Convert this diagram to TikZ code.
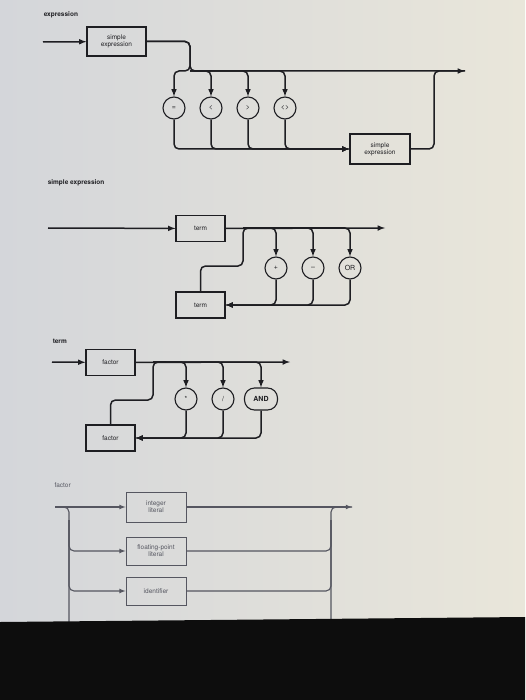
\documentclass[tikz,border=0pt]{standalone}
\usepackage{fontspec}
\setmainfont{TeX Gyre Heros}
\definecolor{pageleft}{RGB}{212,214,218}
\definecolor{pageright}{RGB}{233,230,218}
\definecolor{ink}{RGB}{30,30,34}
\definecolor{faded}{RGB}{85,86,96}
\begin{document}
\begin{tikzpicture}[>=latex, x=1pt, y=-1pt, line width=1.5pt, color=ink,
  box/.style={shape=rectangle,draw,line width=1.1pt,minimum width=49pt,minimum height=26pt,
    inner sep=1pt,align=center,font=\fontsize{6.5}{7}\selectfont},
  op/.style={shape=circle,draw,line width=1.1pt,minimum size=22pt,inner sep=0pt,
    font=\fontsize{7}{8}\selectfont},
  title/.style={anchor=west,inner sep=0pt,font=\bfseries\fontsize{6.5}{7}\selectfont},
  rc/.style={rounded corners=5pt}]

  \useasboundingbox (0,0) rectangle (525,700);
  \shade [left color=pageleft, right color=pageright] (0,0) rectangle (525,700);

  % expression
  \node [title] (t1) at (43,15) {expression};
  \coordinate (in1) at (43,42);
  \coordinate (s1) at (190,71);
  \coordinate (j1) at (434,71);
  \coordinate (out1) at (465,71);
  \node (se1) at (116.5,41.5) [box, minimum width=59pt, minimum height=29pt] {simple\\expression};
  \node (eq) at (174,108) [op] {=};
  \node (lt) at (211,108) [op] {<};
  \node (gt) at (248,108) [op] {>};
  \node (ne) at (285,108) [op] {<>};
  \node (se2) at (380,149) [box, minimum width=60pt, minimum height=30pt] {simple\\expression};

  \draw [->] (in1) -- (se1);
  \draw [rc,->] (se1) -| (s1) -- (out1);
  \draw [rc,->] (se1) -| (s1) -| (eq);
  \foreach \n in {lt,gt,ne} \draw [rc,->] (s1) -| (\n);
  \foreach \n in {eq,lt,gt,ne} \draw [rc,->] (\n) |- (se2);
  \draw [rc] (se2) -| (j1) -- (out1);

  % simple expression
  \node [title] (t2) at (47,183) {simple expression};
  \coordinate (in2) at (48,228);
  \coordinate (j2) at (243,228);
  \coordinate (out2) at (385,228);
  \node (tm1) at (200.5,228.5) [box] {term};
  \node (plus) at (276,268) [op] {+};
  \node (minus) at (313,268) [op] {--};
  \node (or) at (350,268) [op] {OR};
  \node (tm2) at (200.5,305) [box] {term};

  \draw [->] (in2) -- (tm1);
  \draw [->] (tm1) -- (out2);
  \foreach \n in {plus,minus,or} \draw [rc,->] (j2) -| (\n);
  \foreach \n in {plus,minus,or} \draw [rc,->] (\n) |- (tm2);
  \draw [rc] (tm2) |- (243,266) |- (256,228);

  % term
  \node [title] (t3) at (52,341) {term};
  \coordinate (in3) at (52,362);
  \coordinate (j3) at (153,362);
  \coordinate (out3) at (290,362);
  \node (fc1) at (110.5,362.5) [box] {factor};
  \node (mul) at (186,399) [op] {*};
  \node (div) at (223,399) [op] {/};
  \node (and) at (261,399) [op, shape=rectangle, rounded corners=10pt, minimum width=33pt] {\bfseries AND};
  \node (fc2) at (110.5,438) [box] {factor};

  \draw [->] (in3) -- (fc1);
  \draw [->] (fc1) -- (out3);
  \foreach \n in {mul,div,and} \draw [rc,->] (j3) -| (\n);
  \foreach \n in {mul,div,and} \draw [rc,->] (\n) |- (fc2);
  \draw [rc] (fc2) |- (153,400) |- (166,362);

  % factor
  \begin{scope}[color=faded, line width=1.1pt]
  \node [title, font=\fontsize{6.5}{7}\selectfont] (t4) at (54,485) {factor};
  \coordinate (in4) at (55,507);
  \coordinate (out4) at (352,507);
  \node (il) at (156,507) [box, line width=0.9pt, minimum width=60pt, minimum height=30pt] {integer\\literal};
  \node (fl) at (156,551) [box, line width=0.9pt, minimum width=60pt, minimum height=28pt] {floating-point\\literal};
  \node (id) at (156,591) [box, line width=0.9pt, minimum width=60pt, minimum height=28pt] {identifier};

  \draw [->] (in4) -- (il);
  \draw [->] (il) -- (out4);
  \draw [rc] (in4) -| (69,630);
  \foreach \n in {fl,id} \draw [rc,->] (69,520) |- (\n);
  \draw [rc] (331,630) |- (out4);
  \foreach \n in {fl,id} \draw [rc] (\n) -| (331,520);
  \end{scope}

  \fill [black!95] (0,622) -- (525,617) -- (525,700) -- (0,700) -- cycle;
\end{tikzpicture}
\end{document}
